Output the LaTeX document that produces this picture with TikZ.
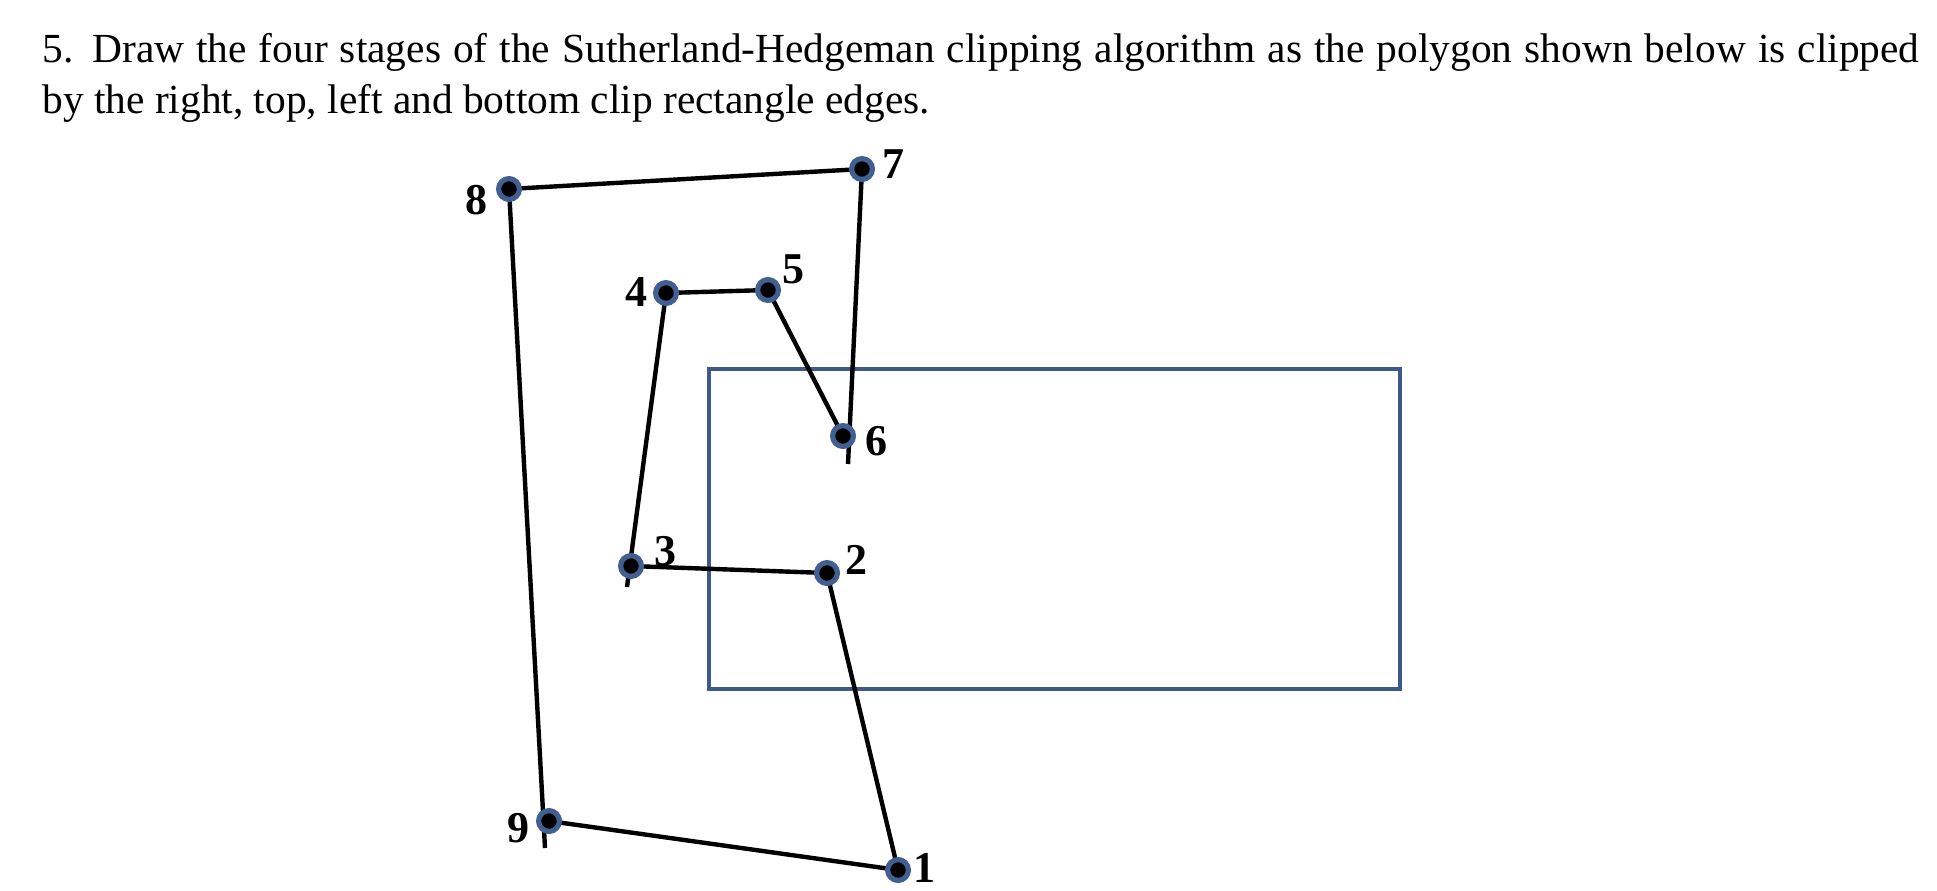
\documentclass[tikz,border=0pt]{standalone}
\usepackage{fontspec}
\setmainfont{Liberation Serif}
\definecolor{clipblue}{RGB}{61,89,136}
\definecolor{dotblue}{RGB}{66,95,145}
\begin{document}
\begin{tikzpicture}[x=0.5pt,y=-0.5pt,
  edge/.style={draw=black,line width=2.2pt},
  vtx/.style={circle,fill=black,draw=dotblue,line width=2.6pt,inner sep=0pt,minimum size=10.4pt},
  lbl/.style={inner sep=0pt,font=\fontsize{22}{26}\selectfont\bfseries},
  para/.style={inner sep=0pt,anchor=base west,font=\fontsize{20.7}{25}\selectfont}]
\useasboundingbox (0,0) rectangle (1937,890);
\fill[white] (0,0) rectangle (1937,890);
% question text
\node[para] (l1) at (42,62) {\makebox[938.5pt][s]{5. Draw the four stages of the Sutherland-Hedgeman clipping algorithm as the polygon shown below is clipped}};
\node[para] (l2) at (42,113) {by the right, top, left and bottom clip rectangle edges.};
% clip rectangle
\node[draw=clipblue,line width=2.2pt,inner sep=0pt,minimum width=345.5pt,minimum height=160pt] (clip) at (1054.5,529) {};
% polygon vertices
\coordinate (c1) at (898,870);
\coordinate (c2) at (827,573);
\coordinate (c3) at (631,566);
\coordinate (c4) at (666,293);
\coordinate (c5) at (768,290);
\coordinate (c6) at (843,436);
\coordinate (c7) at (862,169);
\coordinate (c8) at (509,189);
\coordinate (c9) at (549,821);
\coordinate (t3) at (627,587);
\coordinate (t6) at (848,464);
\coordinate (t9) at (545,848);
% edges
\draw[edge] (c1) -- (c2);
\draw[edge] (c2) -- (c3);
\draw[edge] (c4) -- (t3);
\draw[edge] (c4) -- (c5);
\draw[edge] (c5) -- (c6);
\draw[edge] (c7) -- (t6);
\draw[edge] (c7) -- (c8);
\draw[edge] (c8) -- (t9);
\draw[edge] (c9) -- (c1);
% vertex dots
\foreach \i in {1,...,9} { \node[vtx] (p\i) at (c\i) {}; }
% labels
\node[lbl] (n1) at (924,868) {1};
\node[lbl] (n2) at (856,560) {2};
\node[lbl] (n3) at (665,551) {3};
\node[lbl] (n4) at (636,292) {4};
\node[lbl] (n5) at (793,269) {5};
\node[lbl] (n6) at (876,441) {6};
\node[lbl] (n7) at (893,164) {7};
\node[lbl] (n8) at (476,200) {8};
\node[lbl] (n9) at (518,828) {9};
\end{tikzpicture}
\end{document}
